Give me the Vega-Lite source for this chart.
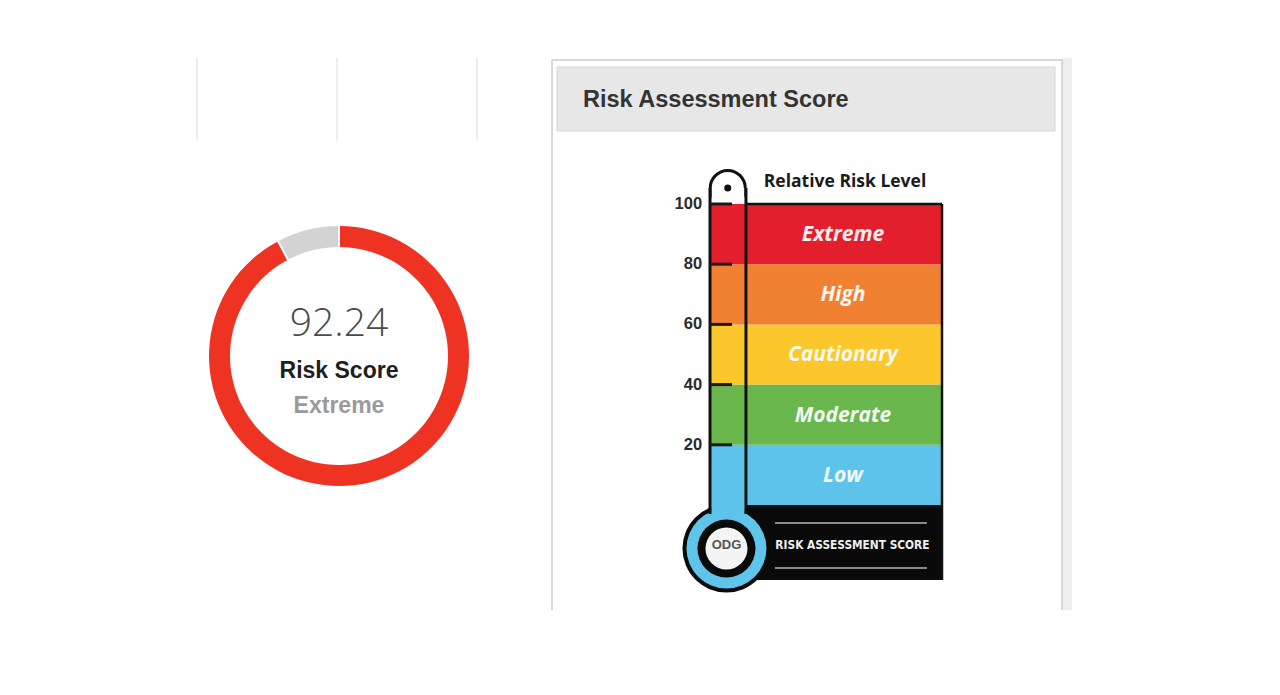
{
  "$schema": "https://vega.github.io/schema/vega-lite/v6.json",
  "width": 1280,
  "height": 695,
  "autosize": {"type": "fit", "contains": "padding"},
  "padding": 0,
  "background": "white",
  "config": {"view": {"stroke": null}},
  "datasets": {
    "donut": [
      {"part": "Risk Score", "value": 92.24},
      {"part": "Remaining", "value": 7.76}
    ],
    "result": [
      {"score": 92.24, "label": "Risk Score", "level": "Extreme"}
    ],
    "columns": [{"edge": 0}, {"edge": 1}, {"edge": 2}],
    "bands": [
      {"level": "Low", "lo": 0, "hi": 20},
      {"level": "Moderate", "lo": 20, "hi": 40},
      {"level": "Cautionary", "lo": 40, "hi": 60},
      {"level": "High", "lo": 60, "hi": 80},
      {"level": "Extreme", "lo": 80, "hi": 100}
    ],
    "ticks": [{"tick": 20}, {"tick": 40}, {"tick": 60}, {"tick": 80}, {"tick": 100}],
    "one": [{}]
  },
  "layer": [
    {
      "data": {"name": "columns"},
      "mark": {"type": "rule", "color": "#ededed", "strokeWidth": 2},
      "encoding": {
        "x": {"field": "edge", "type": "quantitative", "scale": {"domain": [0, 2], "range": [197, 477]}, "axis": null},
        "y": {"datum": 0, "type": "quantitative", "scale": {"domain": [0, 1], "range": [58, 140]}, "axis": null},
        "y2": {"datum": 1}
      }
    },
    {
      "layer": [
        {
          "data": {"name": "donut"},
          "mark": {"type": "arc", "radius": 130, "radius2": 109, "padAngle": 0.012},
          "encoding": {
            "theta": {"field": "value", "type": "quantitative", "stack": true},
            "order": {"field": "value", "type": "quantitative", "sort": "descending"},
            "color": {"field": "part", "type": "nominal", "scale": {"domain": ["Risk Score", "Remaining"], "range": ["#ef3323", "#d3d3d3"]}, "legend": null},
            "x": {"datum": 0.5, "type": "quantitative", "scale": {"domain": [0, 1], "range": [210, 468]}, "axis": null},
            "y": {"datum": 0.5, "type": "quantitative", "scale": {"domain": [0, 1], "range": [226, 486]}, "axis": null}
          }
        },
        {
          "data": {"name": "result"},
          "mark": {"type": "text", "font": "Open Sans", "fontWeight": 300, "fontSize": 39, "color": "#4a4a4a", "align": "center", "baseline": "middle"},
          "encoding": {
            "text": {"field": "score", "type": "quantitative", "format": ".2f"},
            "x": {"datum": 0.5, "type": "quantitative"},
            "y": {"datum": 0.377, "type": "quantitative"}
          }
        },
        {
          "data": {"name": "result"},
          "mark": {"type": "text", "font": "Liberation Sans", "fontWeight": "bold", "fontSize": 23, "color": "#1e1e1e", "align": "center", "baseline": "middle"},
          "encoding": {
            "text": {"field": "label", "type": "nominal"},
            "x": {"datum": 0.5, "type": "quantitative"},
            "y": {"datum": 0.558, "type": "quantitative"}
          }
        },
        {
          "data": {"name": "result"},
          "mark": {"type": "text", "font": "Liberation Sans", "fontWeight": "bold", "fontSize": 23, "color": "#9a9a9a", "align": "center", "baseline": "middle"},
          "encoding": {
            "text": {"field": "level", "type": "nominal"},
            "x": {"datum": 0.5, "type": "quantitative"},
            "y": {"datum": 0.692, "type": "quantitative"}
          }
        }
      ]
    },
    {
      "layer": [
        {
          "data": {"name": "one"},
          "mark": {"type": "rect", "fill": "#eeeeee"},
          "encoding": {
            "x": {"datum": 1.0, "type": "quantitative", "scale": {"domain": [0, 1], "range": [552, 1062]}, "axis": null},
            "x2": {"datum": 1.0196},
            "y": {"datum": -0.0036, "type": "quantitative", "scale": {"domain": [0, 1], "range": [60, 610]}, "axis": null},
            "y2": {"datum": 1}
          }
        },
        {
          "data": {"name": "one"},
          "mark": {"type": "rect", "fill": "#e7e7e7", "stroke": "#d6d6d6", "strokeWidth": 1},
          "encoding": {
            "x": {"datum": 0.0098, "type": "quantitative"},
            "x2": {"datum": 0.9863},
            "y": {"datum": 0.0127, "type": "quantitative"},
            "y2": {"datum": 0.1291}
          }
        },
        {
          "data": {"name": "one"},
          "mark": {"type": "rule", "color": "#cccccc", "strokeWidth": 1.5},
          "encoding": {
            "x": {"datum": 0, "type": "quantitative"},
            "y": {"datum": 0, "type": "quantitative"},
            "y2": {"datum": 1}
          }
        },
        {
          "data": {"name": "one"},
          "mark": {"type": "rule", "color": "#cccccc", "strokeWidth": 1.5},
          "encoding": {
            "x": {"datum": 1, "type": "quantitative"},
            "y": {"datum": 0, "type": "quantitative"},
            "y2": {"datum": 1}
          }
        },
        {
          "data": {"name": "one"},
          "mark": {"type": "rule", "color": "#cccccc", "strokeWidth": 1.5},
          "encoding": {
            "x": {"datum": 0, "type": "quantitative"},
            "x2": {"datum": 1},
            "y": {"datum": 0, "type": "quantitative"}
          }
        },
        {
          "data": {"name": "one"},
          "mark": {"type": "text", "text": "Risk Assessment Score", "font": "Liberation Sans", "fontWeight": "bold", "fontSize": 23.5, "color": "#333333", "align": "left", "baseline": "middle"},
          "encoding": {
            "x": {"datum": 0.0608, "type": "quantitative"},
            "y": {"datum": 0.0736, "type": "quantitative"}
          }
        }
      ]
    },
    {
      "layer": [
        {
          "data": {"name": "one"},
          "mark": {"type": "rect", "fill": "#0a0a0a"},
          "encoding": {
            "x": {"datum": 15.5, "type": "quantitative", "scale": {"domain": [0, 100], "range": [710, 942]}, "axis": null},
            "x2": {"datum": 100},
            "y": {"datum": -24.9, "type": "quantitative", "scale": {"domain": [0, 100], "range": [505, 204]}, "axis": null},
            "y2": {"datum": 0}
          }
        },
        {
          "data": {"name": "one"},
          "mark": {"type": "rule", "color": "#8a8a8a", "strokeWidth": 2},
          "encoding": {
            "x": {"datum": 28, "type": "quantitative"},
            "x2": {"datum": 93.5},
            "y": {"datum": -6, "type": "quantitative"}
          }
        },
        {
          "data": {"name": "one"},
          "mark": {"type": "rule", "color": "#8a8a8a", "strokeWidth": 2},
          "encoding": {
            "x": {"datum": 28, "type": "quantitative"},
            "x2": {"datum": 93.5},
            "y": {"datum": -20.9, "type": "quantitative"}
          }
        },
        {
          "data": {"name": "one"},
          "mark": {"type": "text", "text": "RISK ASSESSMENT SCORE", "font": "DejaVu Sans Condensed, sans-serif", "fontWeight": "bold", "fontSize": 11.8, "color": "#eeeeee", "align": "center", "baseline": "middle"},
          "encoding": {
            "x": {"datum": 61.4, "type": "quantitative"},
            "y": {"datum": -13.3, "type": "quantitative"}
          }
        },
        {
          "data": {"name": "one"},
          "mark": {"type": "point", "shape": "circle", "size": 7744, "filled": true, "fill": "#0a0a0a", "opacity": 1},
          "encoding": {
            "x": {"datum": 7.1, "type": "quantitative"},
            "y": {"datum": -14.45, "type": "quantitative"}
          }
        },
        {
          "data": {"name": "one"},
          "mark": {"type": "point", "shape": "circle", "size": 6400, "filled": true, "fill": "#5ec4ea", "opacity": 1},
          "encoding": {
            "x": {"datum": 7.1, "type": "quantitative"},
            "y": {"datum": -14.45, "type": "quantitative"}
          }
        },
        {
          "data": {"name": "one"},
          "mark": {"type": "point", "shape": "circle", "size": 1225, "filled": true, "fill": "#ffffff", "stroke": "#111111", "strokeWidth": 3, "opacity": 1},
          "encoding": {
            "x": {"datum": 7.65, "type": "quantitative"},
            "y": {"datum": 105.3, "type": "quantitative"}
          }
        },
        {
          "data": {"name": "one"},
          "mark": {"type": "rect", "fill": "#ffffff"},
          "encoding": {
            "x": {"datum": 0.7, "type": "quantitative"},
            "x2": {"datum": 14.8},
            "y": {"datum": 100, "type": "quantitative"},
            "y2": {"datum": 105.3}
          }
        },
        {
          "data": {"name": "bands"},
          "mark": {"type": "rect"},
          "encoding": {
            "x": {"datum": 0, "type": "quantitative"},
            "x2": {"datum": 100},
            "y": {"field": "lo", "type": "quantitative"},
            "y2": {"field": "hi"},
            "color": {"field": "level", "type": "nominal", "scale": {"domain": ["Low", "Moderate", "Cautionary", "High", "Extreme"], "range": ["#5dc3ea", "#6ab74d", "#fcc72c", "#f08132", "#e41f2d"]}, "legend": null}
          }
        },
        {
          "data": {"name": "one"},
          "mark": {"type": "rect", "fill": "#5dc3ea"},
          "encoding": {
            "x": {"datum": 0.5, "type": "quantitative"},
            "x2": {"datum": 15},
            "y": {"datum": -4, "type": "quantitative"},
            "y2": {"datum": 0}
          }
        },
        {
          "data": {"name": "one"},
          "mark": {"type": "point", "shape": "circle", "size": 3364, "filled": true, "fill": "#0a0a0a", "opacity": 1},
          "encoding": {
            "x": {"datum": 7.1, "type": "quantitative"},
            "y": {"datum": -14.45, "type": "quantitative"}
          }
        },
        {
          "data": {"name": "one"},
          "mark": {"type": "point", "shape": "circle", "size": 1764, "filled": true, "fill": "#f4f4f4", "opacity": 1},
          "encoding": {
            "x": {"datum": 7.1, "type": "quantitative"},
            "y": {"datum": -14.45, "type": "quantitative"}
          }
        },
        {
          "data": {"name": "one"},
          "mark": {"type": "text", "text": "ODG", "font": "Liberation Sans", "fontWeight": "bold", "fontSize": 13, "color": "#555555", "align": "center", "baseline": "middle"},
          "encoding": {
            "x": {"datum": 7.1, "type": "quantitative"},
            "y": {"datum": -13.3, "type": "quantitative"}
          }
        },
        {
          "data": {"name": "one"},
          "mark": {"type": "rule", "color": "#111111", "strokeWidth": 3},
          "encoding": {
            "x": {"datum": 0, "type": "quantitative"},
            "y": {"datum": 105.3, "type": "quantitative"},
            "y2": {"datum": -3}
          }
        },
        {
          "data": {"name": "one"},
          "mark": {"type": "rule", "color": "#111111", "strokeWidth": 3},
          "encoding": {
            "x": {"datum": 15.5, "type": "quantitative"},
            "y": {"datum": 105.3, "type": "quantitative"},
            "y2": {"datum": -3}
          }
        },
        {
          "data": {"name": "one"},
          "mark": {"type": "rule", "color": "#111111", "strokeWidth": 2.5},
          "encoding": {
            "x": {"datum": 15.5, "type": "quantitative"},
            "x2": {"datum": 100},
            "y": {"datum": 100, "type": "quantitative"}
          }
        },
        {
          "data": {"name": "one"},
          "mark": {"type": "rule", "color": "#111111", "strokeWidth": 2.5},
          "encoding": {
            "x": {"datum": 100, "type": "quantitative"},
            "y": {"datum": 100, "type": "quantitative"},
            "y2": {"datum": -24.9}
          }
        },
        {
          "data": {"name": "ticks"},
          "mark": {"type": "rule", "color": "#1a1a1a", "strokeWidth": 3},
          "encoding": {
            "x": {"datum": 0, "type": "quantitative"},
            "x2": {"datum": 9.5},
            "y": {"field": "tick", "type": "quantitative"}
          }
        },
        {
          "data": {"name": "ticks"},
          "mark": {"type": "text", "font": "Liberation Sans", "fontWeight": "bold", "fontSize": 16.5, "color": "#2b2b2b", "align": "right", "baseline": "middle"},
          "encoding": {
            "text": {"field": "tick", "type": "quantitative"},
            "x": {"datum": -3.4, "type": "quantitative"},
            "y": {"field": "tick", "type": "quantitative"}
          }
        },
        {
          "data": {"name": "bands"},
          "mark": {"type": "text", "font": "Open Sans", "fontWeight": "bold", "fontStyle": "italic", "fontSize": 21, "color": "#ffffff", "opacity": 0.92, "align": "center", "baseline": "middle", "dy": 31},
          "encoding": {
            "text": {"field": "level", "type": "nominal"},
            "x": {"datum": 57.3, "type": "quantitative"},
            "y": {"field": "hi", "type": "quantitative"}
          }
        },
        {
          "data": {"name": "one"},
          "mark": {"type": "text", "text": "Relative Risk Level", "font": "Open Sans", "fontWeight": "bold", "fontSize": 17.5, "color": "#1a1a1a", "align": "center", "baseline": "middle"},
          "encoding": {
            "x": {"datum": 58.2, "type": "quantitative"},
            "y": {"datum": 107.3, "type": "quantitative"}
          }
        },
        {
          "data": {"name": "one"},
          "mark": {"type": "point", "shape": "circle", "size": 49, "filled": true, "fill": "#111111", "opacity": 1},
          "encoding": {
            "x": {"datum": 7.65, "type": "quantitative"},
            "y": {"datum": 105.3, "type": "quantitative"}
          }
        }
      ]
    }
  ],
  "resolve": {"scale": {"x": "independent", "y": "independent", "color": "independent"}}
}
